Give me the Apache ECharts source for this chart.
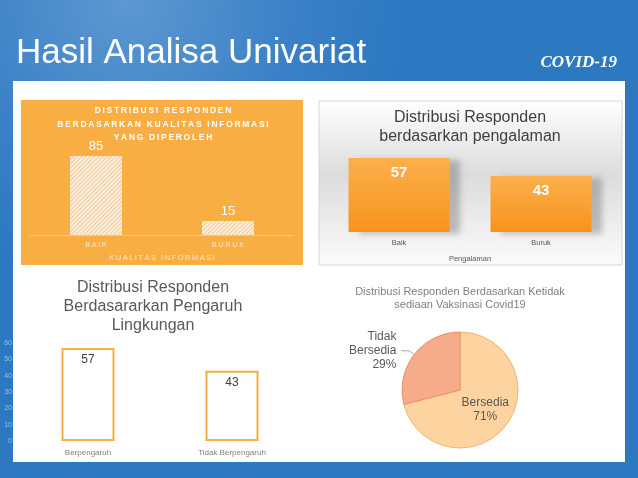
<!DOCTYPE html>
<html>
<head>
<meta charset="utf-8">
<script src="https://cdn.jsdelivr.net/npm/echarts@6/dist/echarts.min.js"></script>
<style>
  html, body { margin: 0; padding: 0; }
  #main { width: 638px; height: 478px; }
</style>
</head>
<body>
<div id="main"></div>
<script>
// data
var kualitasCats = ['BAIK', 'BURUK'];
var kualitasVals = [85, 15];
var pengalamanCats = ['Baik', 'Buruk'];
var pengalamanVals = [57, 43];
var lingkunganCats = ['Berpengaruh', 'Tidak Berpengaruh'];
var lingkunganVals = [57, 43];
var lingkunganTicks = [0, 10, 20, 30, 40, 50, 60];
var vaksinNames = ['Bersedia', 'Tidak Bersedia'];
var vaksinVals = [71, 29];

var FONT = '"Liberation Sans", Arial, sans-serif';
var chart = echarts.init(document.getElementById('main'), null, { renderer: 'canvas' });

// letter-spaced caps like the slide
function spaced(v) {
  return v.split('').join('\u2009');
}

var option = {
  animation: false,
  backgroundColor: {
    type: 'radial', x: 0.2, y: 0.0, r: 0.6,
    colorStops: [
      { offset: 0, color: '#5d98d1' },
      { offset: 0.6, color: '#3a80c6' },
      { offset: 1, color: '#2c78c1' }
    ]
  },
  textStyle: { fontFamily: FONT },
  graphic: [
    // slide panels
    { type: 'rect', z: -10, shape: { x: 13, y: 81, width: 612, height: 381 }, style: { fill: '#ffffff' } },
    { type: 'rect', z: -9, shape: { x: 21, y: 100, width: 282, height: 165 }, style: { fill: '#f9ae44' } },
    { type: 'rect', z: -9, shape: { x: 319, y: 101, width: 303, height: 164 },
      style: {
        stroke: '#d6d6d6', lineWidth: 1,
        fill: { type: 'linear', x: 0, y: 0, x2: 0, y2: 1, colorStops: [
          { offset: 0, color: '#ffffff' }, { offset: 0.45, color: '#dcdcdc' }, { offset: 1, color: '#fbfbfb' }] }
      } },
    // slide heading
    { type: 'text', z: 10, style: { text: 'Hasil Analisa Univariat', x: 16, y: 71, textVerticalAlign: 'bottom',
      font: '35px ' + FONT, fill: '#ffffff' } },
    { type: 'text', z: 10, style: { text: 'COVID-19', x: 617, y: 63, textAlign: 'right', textVerticalAlign: 'middle',
      font: 'italic bold 17px "Liberation Serif", serif', fill: '#ffffff' } },
    // chart titles
    { type: 'text', z: 10, style: {
      text: spaced('DISTRIBUSI RESPONDEN') + '\n' + spaced('BERDASARKAN KUALITAS INFORMASI') + '\n' + spaced('YANG DIPEROLEH'),
      x: 163, y: 104, textAlign: 'center', lineHeight: 13.5, font: 'bold 8.5px ' + FONT, fill: '#ffffff' } },
    { type: 'text', z: 10, style: { text: 'Distribusi Responden\nberdasarkan pengalaman',
      x: 470, y: 108, textAlign: 'center', lineHeight: 19, font: '16px ' + FONT, fill: '#404040' } },
    { type: 'text', z: 10, style: { text: 'Distribusi Responden\nBerdasararkan Pengaruh\nLingkungan',
      x: 153, y: 278, textAlign: 'center', lineHeight: 19, font: '16px ' + FONT, fill: '#595959' } },
    { type: 'text', z: 10, style: { text: 'Distribusi Responden Berdasarkan Ketidak\nsediaan Vaksinasi Covid19',
      x: 460, y: 285, textAlign: 'center', lineHeight: 13, font: '11px ' + FONT, fill: '#808080' } }
  ],
  grid: [
    { left: 30, width: 264, top: 142, height: 93 },
    { left: 328, width: 284, top: 154, height: 78 },
    { left: 16, width: 288, top: 343, height: 98 }
  ],
  xAxis: [
    {
      gridIndex: 0, type: 'category', data: kualitasCats,
      axisLine: { lineStyle: { color: 'rgba(255,255,255,0.3)' } }, axisTick: { show: false },
      axisLabel: { color: '#fde6c4', fontSize: 7.5, margin: 6, formatter: spaced },
      name: spaced('KUALITAS INFORMASI'), nameLocation: 'middle', nameGap: 19,
      nameTextStyle: { color: '#fde6c4', fontSize: 7.5 }
    },
    {
      gridIndex: 1, type: 'category', data: pengalamanCats,
      axisLine: { show: false }, axisTick: { show: false },
      axisLabel: { color: '#595959', fontSize: 7.5, margin: 7 },
      name: 'Pengalaman', nameLocation: 'middle', nameGap: 23,
      nameTextStyle: { color: '#595959', fontSize: 7.5 }
    },
    {
      gridIndex: 2, type: 'category', data: lingkunganCats,
      axisLine: { show: false }, axisTick: { show: false },
      axisLabel: { color: '#808080', fontSize: 8, margin: 8 }
    }
  ],
  yAxis: [
    { gridIndex: 0, type: 'value', min: 0, max: 100, show: false },
    { gridIndex: 1, type: 'value', min: 0, max: 60, show: false },
    {
      gridIndex: 2, type: 'value', min: lingkunganTicks[0], max: lingkunganTicks[lingkunganTicks.length - 1], interval: 10,
      axisLine: { show: false }, axisTick: { show: false }, splitLine: { show: false },
      axisLabel: { color: 'rgba(190,215,240,0.75)', fontSize: 7, margin: 4 }
    }
  ],
  series: [
    {
      type: 'bar', xAxisIndex: 0, yAxisIndex: 0, data: kualitasVals, barWidth: 52,
      itemStyle: {
        color: '#fbeedd',
        decal: { symbol: 'rect', symbolSize: 1, dashArrayX: [1, 0], dashArrayY: [1, 2],
          rotation: -Math.PI / 4, color: 'rgba(238,190,130,0.75)' }
      },
      label: { show: true, position: 'top', distance: 3, color: '#ffffff', fontSize: 13 }
    },
    {
      type: 'bar', xAxisIndex: 1, yAxisIndex: 1, data: pengalamanVals, barWidth: 101,
      itemStyle: {
        color: { type: 'linear', x: 0, y: 0, x2: 0, y2: 1, colorStops: [
          { offset: 0, color: '#fcb04c' }, { offset: 1, color: '#f7931c' }] },
        shadowColor: 'rgba(0,0,0,0.22)', shadowBlur: 6, shadowOffsetX: 10, shadowOffsetY: 2
      },
      label: { show: true, position: 'insideTop', distance: 7, color: '#ffffff', fontSize: 15, fontWeight: 'bold' }
    },
    {
      type: 'bar', xAxisIndex: 2, yAxisIndex: 2, data: lingkunganVals, barWidth: 53,
      itemStyle: { color: '#ffffff', borderColor: '#f5ad48', borderWidth: 2 },
      label: { show: true, position: 'insideTop', distance: 6, color: '#404040', fontSize: 12 }
    },
    {
      type: 'pie', center: [460, 390], radius: 58, startAngle: 90, clockwise: true,
      label: {
        color: '#595959', fontSize: 11, lineHeight: 14,
        formatter: function (p) { return p.name.replace(' ', '\n') + '\n' + Math.round(p.percent) + '%'; }
      },
      labelLine: { length: 6, length2: 8, lineStyle: { color: '#a6a6a6' } },
      data: [
        { name: vaksinNames[0], value: vaksinVals[0],
          itemStyle: { color: '#fdd4a0', borderColor: '#f4b26a', borderWidth: 1 },
          label: { position: 'inside', fontSize: 12 } },
        { name: vaksinNames[1], value: vaksinVals[1],
          itemStyle: { color: '#f6ab8b', borderColor: '#ec9067', borderWidth: 1 },
          label: { position: 'outside', fontSize: 12 } }
      ]
    }
  ]
};

chart.setOption(option);
</script>
</body>
</html>
